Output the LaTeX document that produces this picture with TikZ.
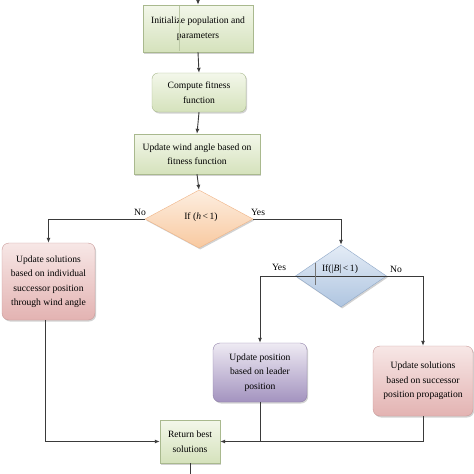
\documentclass[tikz,border=0pt]{standalone}
\usepackage{fontspec}
\setmainfont{Liberation Serif}
\usetikzlibrary{shapes.geometric,arrows.meta,shadows}
\definecolor{lnc}{HTML}{3A3A3A}
\definecolor{gtop}{HTML}{F3F7EA}
\definecolor{gbot}{HTML}{D5E2BC}
\definecolor{gbrd}{HTML}{A9B98E}
\definecolor{otop}{HTML}{FDEEE0}
\definecolor{obot}{HTML}{F8C9A0}
\definecolor{obrd}{HTML}{F0B486}
\definecolor{ptop}{HTML}{F7E7E6}
\definecolor{pbot}{HTML}{E3B3B2}
\definecolor{pbrd}{HTML}{C99A99}
\definecolor{vtop}{HTML}{EEEAF3}
\definecolor{vbot}{HTML}{A393BF}
\definecolor{vbrd}{HTML}{8F80A8}
\definecolor{btop}{HTML}{E4ECF6}
\definecolor{bbot}{HTML}{AFC5E0}
\definecolor{bbrd}{HTML}{8FA8C8}
\begin{document}
\begin{tikzpicture}[x=1pt,y=-1pt,
  txt/.style={font=\fontsize{9.6}{14.5}\selectfont, align=center, text=black},
  shd/.style={drop shadow={shadow xshift=1.2pt, shadow yshift=-1.5pt, opacity=0.35}},
  gbox/.style={txt, draw=gbrd, top color=gtop, bottom color=gbot, inner sep=1pt, shd},
  pbox/.style={txt, draw=pbrd, top color=ptop, bottom color=pbot, rounded corners=7pt, inner sep=1pt, shd},
  vbox/.style={txt, draw=vbrd, top color=vtop, bottom color=vbot, rounded corners=7pt, inner sep=1pt, shd},
  dec/.style={txt, diamond, inner sep=0pt, shd},
  conn/.style={draw=lnc, line width=0.9pt},
  arr/.style={conn, -{Latex[length=5pt,width=4pt]}},
  lbl/.style={txt}
]
\useasboundingbox (0,0) rectangle (474,474);
\fill[white] (0,0) rectangle (474,474);

\node[gbox, minimum width=110, minimum height=47] (b1) at (198,28.5) {Initialize population and\\parameters};
\node[gbox, rounded corners=6pt, minimum width=94, minimum height=39] (b2) at (199,92.5) {Compute fitness\\function};
\node[gbox, minimum width=126, minimum height=40] (b3) at (197,154) {Update wind angle based on\\fitness function};
\node[dec, draw=obrd, top color=otop, bottom color=obot, minimum width=108, minimum height=58] (d1) at (199,219) {};
\node[dec, draw=bbrd, top color=btop, bottom color=bbot, minimum width=91, minimum height=62] (d2) at (341,276) {};
\node[txt] (d1t) at (201,217) {If (\textit{h}\,<\,1)};
\node[pbox, minimum width=93, minimum height=77] (b4) at (48.5,281.5) {Update solutions\\based on individual\\successor position\\through wind angle};
\node[vbox, minimum width=94, minimum height=59] (b5) at (260,372.5) {Update position\\based on leader\\position};
\node[pbox, minimum width=100, minimum height=70] (b6) at (423,381) {Update solutions\\based on successor\\position propagation};
\node[gbox, minimum width=60, minimum height=43] (b7) at (190,441.5) {Return best\\solutions};

\coordinate (top) at (198,0);
\coordinate (bot) at (190,474);

% faint artefact line
\draw[gbrd!80, line width=0.5pt] (179,6) -- (179,51);

\draw[arr] (top) -- (b1.north);
\draw[arr] (b1.south) -- (b2.north);
\draw[arr] (b2.south) -- (b3.north);
\draw[arr] (b3.south) -- (d1.north);
\draw[arr] (d1.west) -| (b4.north);
\draw[arr] (d1.east) -| (d2.north);
\draw[arr] (d2.west) -| (b5.north);
\draw[arr] (d2.east) -| (b6.north);
\draw[conn] (d2.west) -- (d2.east);
\draw[lnc!70, line width=0.5pt] (315,263) -- (315,285);
\node[txt] (d2t) at (340,269) {If(|\textit{B}|\,<\,1)};
\coordinate (b4s) at (45,320);
\draw[arr] (b4s) |- (b7.west);
\draw[conn] (b5.south) -- (b5.south |- b7.east);
\draw[arr] (b6.south) |- (b7.east);
\draw[conn] (b7.south) -- (bot);

\node[lbl] (no1) at (140,212) {No};
\node[lbl] (yes1) at (258,212) {Yes};
\node[lbl] (yes2) at (279,267) {Yes};
\node[lbl] (no2) at (396,269) {No};
\end{tikzpicture}
\end{document}
